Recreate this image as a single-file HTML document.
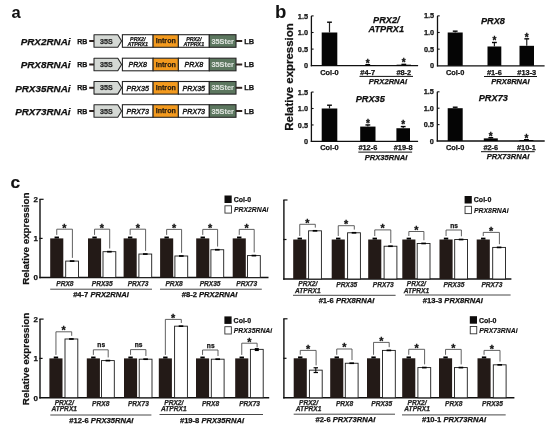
<!DOCTYPE html>
<html><head><meta charset="utf-8"><style>
html,body{margin:0;padding:0;background:#fff;}
svg{display:block;}
text{font-family:"Liberation Sans", Arial, sans-serif;}
</style></head><body>
<svg width="550" height="428" viewBox="0 0 550 428">
<rect width="550" height="428" fill="#fff"/>
<text x="11.50" y="18.20" font-size="16.5" font-weight="bold" font-style="normal" text-anchor="start" fill="#111" >a</text>
<text x="70.60" y="44.80" font-size="9.9" font-weight="bold" font-style="italic" text-anchor="end" fill="#111" stroke="#111" stroke-width="0.25" >PRX2RNAi</text>
<text x="77.20" y="43.50" font-size="7.0" font-weight="bold" font-style="normal" text-anchor="start" fill="#111" stroke="#111" stroke-width="0.25" >RB</text>
<line x1="89.20" y1="41.00" x2="94.00" y2="41.00" stroke="#2e221e" stroke-width="2.0" />
<path d="M94,34.7 L117.8,34.7 L121.6,41.0 L117.8,47.3 L94,47.3 Z" fill="#d4d8d4" stroke="#262626" stroke-width="1.1" stroke-linejoin="round"/>
<text x="106.40" y="43.50" font-size="7.1" font-weight="bold" font-style="normal" text-anchor="middle" fill="#262626" stroke="#262626" stroke-width="0.25" >35S</text>
<rect x="122.40" y="34.70" width="30.70" height="12.60" fill="#ffffff" stroke="#262626" stroke-width="1.1" />
<rect x="153.10" y="34.70" width="25.30" height="12.60" fill="#f39a1e" stroke="#262626" stroke-width="1.1" />
<rect x="178.40" y="34.70" width="30.90" height="12.60" fill="#ffffff" stroke="#262626" stroke-width="1.1" />
<rect x="209.30" y="34.70" width="26.70" height="12.60" fill="#5c775f" stroke="#262626" stroke-width="1.1" />
<text x="165.75" y="43.40" font-size="7.1" font-weight="bold" font-style="normal" text-anchor="middle" fill="#2e2010" stroke="#2e2010" stroke-width="0.25" >Intron</text>
<text x="222.65" y="43.50" font-size="7.3" font-weight="bold" font-style="normal" text-anchor="middle" fill="#dde2dd" stroke="#dde2dd" stroke-width="0.1" >35Ster</text>
<text x="137.75" y="40.50" font-size="5.3" font-weight="bold" font-style="italic" text-anchor="middle" fill="#111" stroke="#111" stroke-width="0.25" >PRX2/</text>
<text x="137.75" y="45.60" font-size="5.3" font-weight="bold" font-style="italic" text-anchor="middle" fill="#111" stroke="#111" stroke-width="0.25" >ATPRX1</text>
<text x="193.85" y="40.50" font-size="5.3" font-weight="bold" font-style="italic" text-anchor="middle" fill="#111" stroke="#111" stroke-width="0.25" >PRX2/</text>
<text x="193.85" y="45.60" font-size="5.3" font-weight="bold" font-style="italic" text-anchor="middle" fill="#111" stroke="#111" stroke-width="0.25" >ATPRX1</text>
<line x1="236.00" y1="41.00" x2="242.20" y2="41.00" stroke="#2e221e" stroke-width="2.0" />
<text x="244.20" y="43.60" font-size="7.4" font-weight="bold" font-style="normal" text-anchor="start" fill="#111" stroke="#111" stroke-width="0.25" >LB</text>
<text x="70.60" y="68.30" font-size="9.9" font-weight="bold" font-style="italic" text-anchor="end" fill="#111" stroke="#111" stroke-width="0.25" >PRX8RNAi</text>
<text x="77.20" y="67.00" font-size="7.0" font-weight="bold" font-style="normal" text-anchor="start" fill="#111" stroke="#111" stroke-width="0.25" >RB</text>
<line x1="89.20" y1="64.50" x2="94.00" y2="64.50" stroke="#2e221e" stroke-width="2.0" />
<path d="M94,58.2 L117.8,58.2 L121.6,64.5 L117.8,70.8 L94,70.8 Z" fill="#d4d8d4" stroke="#262626" stroke-width="1.1" stroke-linejoin="round"/>
<text x="106.40" y="67.00" font-size="7.1" font-weight="bold" font-style="normal" text-anchor="middle" fill="#262626" stroke="#262626" stroke-width="0.25" >35S</text>
<rect x="122.40" y="58.20" width="30.70" height="12.60" fill="#ffffff" stroke="#262626" stroke-width="1.1" />
<rect x="153.10" y="58.20" width="25.30" height="12.60" fill="#f39a1e" stroke="#262626" stroke-width="1.1" />
<rect x="178.40" y="58.20" width="30.90" height="12.60" fill="#ffffff" stroke="#262626" stroke-width="1.1" />
<rect x="209.30" y="58.20" width="26.70" height="12.60" fill="#5c775f" stroke="#262626" stroke-width="1.1" />
<text x="165.75" y="66.90" font-size="7.1" font-weight="bold" font-style="normal" text-anchor="middle" fill="#2e2010" stroke="#2e2010" stroke-width="0.25" >Intron</text>
<text x="222.65" y="67.00" font-size="7.3" font-weight="bold" font-style="normal" text-anchor="middle" fill="#dde2dd" stroke="#dde2dd" stroke-width="0.1" >35Ster</text>
<text x="137.75" y="67.20" font-size="7.1" font-weight="normal" font-style="italic" text-anchor="middle" fill="#111" stroke="#111" stroke-width="0.38" >PRX8</text>
<text x="193.85" y="67.20" font-size="7.1" font-weight="normal" font-style="italic" text-anchor="middle" fill="#111" stroke="#111" stroke-width="0.38" >PRX8</text>
<line x1="236.00" y1="64.50" x2="242.20" y2="64.50" stroke="#2e221e" stroke-width="2.0" />
<text x="244.20" y="67.10" font-size="7.4" font-weight="bold" font-style="normal" text-anchor="start" fill="#111" stroke="#111" stroke-width="0.25" >LB</text>
<text x="70.60" y="91.60" font-size="9.9" font-weight="bold" font-style="italic" text-anchor="end" fill="#111" stroke="#111" stroke-width="0.25" >PRX35RNAi</text>
<text x="77.20" y="90.30" font-size="7.0" font-weight="bold" font-style="normal" text-anchor="start" fill="#111" stroke="#111" stroke-width="0.25" >RB</text>
<line x1="89.20" y1="87.80" x2="94.00" y2="87.80" stroke="#2e221e" stroke-width="2.0" />
<path d="M94,81.5 L117.8,81.5 L121.6,87.8 L117.8,94.1 L94,94.1 Z" fill="#d4d8d4" stroke="#262626" stroke-width="1.1" stroke-linejoin="round"/>
<text x="106.40" y="90.30" font-size="7.1" font-weight="bold" font-style="normal" text-anchor="middle" fill="#262626" stroke="#262626" stroke-width="0.25" >35S</text>
<rect x="122.40" y="81.50" width="30.70" height="12.60" fill="#ffffff" stroke="#262626" stroke-width="1.1" />
<rect x="153.10" y="81.50" width="25.30" height="12.60" fill="#f39a1e" stroke="#262626" stroke-width="1.1" />
<rect x="178.40" y="81.50" width="30.90" height="12.60" fill="#ffffff" stroke="#262626" stroke-width="1.1" />
<rect x="209.30" y="81.50" width="26.70" height="12.60" fill="#5c775f" stroke="#262626" stroke-width="1.1" />
<text x="165.75" y="90.20" font-size="7.1" font-weight="bold" font-style="normal" text-anchor="middle" fill="#2e2010" stroke="#2e2010" stroke-width="0.25" >Intron</text>
<text x="222.65" y="90.30" font-size="7.3" font-weight="bold" font-style="normal" text-anchor="middle" fill="#dde2dd" stroke="#dde2dd" stroke-width="0.1" >35Ster</text>
<text x="137.75" y="90.50" font-size="7.1" font-weight="normal" font-style="italic" text-anchor="middle" fill="#111" stroke="#111" stroke-width="0.38" >PRX35</text>
<text x="193.85" y="90.50" font-size="7.1" font-weight="normal" font-style="italic" text-anchor="middle" fill="#111" stroke="#111" stroke-width="0.38" >PRX35</text>
<line x1="236.00" y1="87.80" x2="242.20" y2="87.80" stroke="#2e221e" stroke-width="2.0" />
<text x="244.20" y="90.40" font-size="7.4" font-weight="bold" font-style="normal" text-anchor="start" fill="#111" stroke="#111" stroke-width="0.25" >LB</text>
<text x="70.60" y="114.80" font-size="9.9" font-weight="bold" font-style="italic" text-anchor="end" fill="#111" stroke="#111" stroke-width="0.25" >PRX73RNAi</text>
<text x="77.20" y="113.50" font-size="7.0" font-weight="bold" font-style="normal" text-anchor="start" fill="#111" stroke="#111" stroke-width="0.25" >RB</text>
<line x1="89.20" y1="111.00" x2="94.00" y2="111.00" stroke="#2e221e" stroke-width="2.0" />
<path d="M94,104.7 L117.8,104.7 L121.6,111.0 L117.8,117.3 L94,117.3 Z" fill="#d4d8d4" stroke="#262626" stroke-width="1.1" stroke-linejoin="round"/>
<text x="106.40" y="113.50" font-size="7.1" font-weight="bold" font-style="normal" text-anchor="middle" fill="#262626" stroke="#262626" stroke-width="0.25" >35S</text>
<rect x="122.40" y="104.70" width="30.70" height="12.60" fill="#ffffff" stroke="#262626" stroke-width="1.1" />
<rect x="153.10" y="104.70" width="25.30" height="12.60" fill="#f39a1e" stroke="#262626" stroke-width="1.1" />
<rect x="178.40" y="104.70" width="30.90" height="12.60" fill="#ffffff" stroke="#262626" stroke-width="1.1" />
<rect x="209.30" y="104.70" width="26.70" height="12.60" fill="#5c775f" stroke="#262626" stroke-width="1.1" />
<text x="165.75" y="113.40" font-size="7.1" font-weight="bold" font-style="normal" text-anchor="middle" fill="#2e2010" stroke="#2e2010" stroke-width="0.25" >Intron</text>
<text x="222.65" y="113.50" font-size="7.3" font-weight="bold" font-style="normal" text-anchor="middle" fill="#dde2dd" stroke="#dde2dd" stroke-width="0.1" >35Ster</text>
<text x="137.75" y="113.70" font-size="7.1" font-weight="normal" font-style="italic" text-anchor="middle" fill="#111" stroke="#111" stroke-width="0.38" >PRX73</text>
<text x="193.85" y="113.70" font-size="7.1" font-weight="normal" font-style="italic" text-anchor="middle" fill="#111" stroke="#111" stroke-width="0.38" >PRX73</text>
<line x1="236.00" y1="111.00" x2="242.20" y2="111.00" stroke="#2e221e" stroke-width="2.0" />
<text x="244.20" y="113.60" font-size="7.4" font-weight="bold" font-style="normal" text-anchor="start" fill="#111" stroke="#111" stroke-width="0.25" >LB</text>
<text x="275.00" y="17.90" font-size="18.6" font-weight="bold" font-style="normal" text-anchor="start" fill="#111" >b</text>
<text x="0.00" y="0.00" font-size="11.45" font-weight="bold" font-style="normal" text-anchor="middle" fill="#111" stroke="#111" stroke-width="0.25" transform="translate(293.4,77.0) rotate(-90)">Relative expression</text>
<line x1="311.40" y1="15.90" x2="311.40" y2="66.30" stroke="#111" stroke-width="1.3" />
<line x1="310.80" y1="65.70" x2="418.10" y2="65.70" stroke="#111" stroke-width="1.3" />
<text x="308.00" y="68.30" font-size="7.3" font-weight="bold" font-style="normal" text-anchor="end" fill="#111" stroke="#111" stroke-width="0.25" >0</text>
<line x1="311.40" y1="49.10" x2="313.60" y2="49.10" stroke="#111" stroke-width="1.1" />
<text x="308.00" y="51.70" font-size="7.3" font-weight="bold" font-style="normal" text-anchor="end" fill="#111" stroke="#111" stroke-width="0.25" >0.5</text>
<line x1="311.40" y1="32.50" x2="313.60" y2="32.50" stroke="#111" stroke-width="1.1" />
<text x="308.00" y="35.10" font-size="7.3" font-weight="bold" font-style="normal" text-anchor="end" fill="#111" stroke="#111" stroke-width="0.25" >1.0</text>
<line x1="311.40" y1="15.90" x2="313.60" y2="15.90" stroke="#111" stroke-width="1.1" />
<text x="308.00" y="18.50" font-size="7.3" font-weight="bold" font-style="normal" text-anchor="end" fill="#111" stroke="#111" stroke-width="0.25" >1.5</text>
<rect x="321.70" y="32.50" width="15.60" height="33.20" fill="#050505" stroke="none" stroke-width="0" />
<line x1="329.50" y1="32.50" x2="329.50" y2="22.21" stroke="#222" stroke-width="1.2" />
<line x1="327.10" y1="22.21" x2="331.90" y2="22.21" stroke="#050505" stroke-width="1.4" />
<text x="329.50" y="74.50" font-size="7.4" font-weight="bold" font-style="normal" text-anchor="middle" fill="#111" stroke="#111" stroke-width="0.25" >Col-0</text>
<rect x="360.00" y="65.04" width="15.50" height="0.66" fill="#050505" stroke="none" stroke-width="0" />
<line x1="367.75" y1="65.04" x2="367.75" y2="64.70" stroke="#222" stroke-width="1.2" />
<line x1="365.35" y1="64.70" x2="370.15" y2="64.70" stroke="#050505" stroke-width="1.4" />
<text x="367.75" y="66.52" font-size="10.0" font-weight="bold" font-style="normal" text-anchor="middle" fill="#111" stroke="#111" stroke-width="0.3" >*</text>
<text x="367.75" y="74.50" font-size="7.4" font-weight="bold" font-style="normal" text-anchor="middle" fill="#111" stroke="#111" stroke-width="0.25" >#4-7</text>
<rect x="396.60" y="64.70" width="14.40" height="1.00" fill="#050505" stroke="none" stroke-width="0" />
<line x1="403.80" y1="64.70" x2="403.80" y2="64.37" stroke="#222" stroke-width="1.2" />
<line x1="401.40" y1="64.37" x2="406.20" y2="64.37" stroke="#050505" stroke-width="1.4" />
<text x="403.80" y="66.19" font-size="10.0" font-weight="bold" font-style="normal" text-anchor="middle" fill="#111" stroke="#111" stroke-width="0.3" >*</text>
<text x="403.80" y="74.50" font-size="7.4" font-weight="bold" font-style="normal" text-anchor="middle" fill="#111" stroke="#111" stroke-width="0.25" >#8-2</text>
<line x1="359.50" y1="76.40" x2="413.00" y2="76.40" stroke="#111" stroke-width="1.0" />
<text x="388.00" y="84.10" font-size="7.6" font-weight="bold" font-style="italic" text-anchor="middle" fill="#111" stroke="#111" stroke-width="0.25" >PRX2RNAi</text>
<text x="386.30" y="23.00" font-size="9.2" font-weight="bold" font-style="italic" text-anchor="middle" fill="#111" stroke="#111" stroke-width="0.25" >PRX2/</text>
<text x="386.30" y="31.80" font-size="9.2" font-weight="bold" font-style="italic" text-anchor="middle" fill="#111" stroke="#111" stroke-width="0.25" >ATPRX1</text>
<line x1="437.50" y1="15.85" x2="437.50" y2="66.40" stroke="#111" stroke-width="1.3" />
<line x1="436.90" y1="65.80" x2="544.60" y2="65.80" stroke="#111" stroke-width="1.3" />
<text x="434.10" y="68.40" font-size="7.3" font-weight="bold" font-style="normal" text-anchor="end" fill="#111" stroke="#111" stroke-width="0.25" >0</text>
<line x1="437.50" y1="49.15" x2="439.70" y2="49.15" stroke="#111" stroke-width="1.1" />
<text x="434.10" y="51.75" font-size="7.3" font-weight="bold" font-style="normal" text-anchor="end" fill="#111" stroke="#111" stroke-width="0.25" >0.5</text>
<line x1="437.50" y1="32.50" x2="439.70" y2="32.50" stroke="#111" stroke-width="1.1" />
<text x="434.10" y="35.10" font-size="7.3" font-weight="bold" font-style="normal" text-anchor="end" fill="#111" stroke="#111" stroke-width="0.25" >1.0</text>
<line x1="437.50" y1="15.85" x2="439.70" y2="15.85" stroke="#111" stroke-width="1.1" />
<text x="434.10" y="18.45" font-size="7.3" font-weight="bold" font-style="normal" text-anchor="end" fill="#111" stroke="#111" stroke-width="0.25" >1.5</text>
<rect x="447.70" y="32.50" width="15.00" height="33.30" fill="#050505" stroke="none" stroke-width="0" />
<line x1="455.20" y1="32.50" x2="455.20" y2="31.17" stroke="#222" stroke-width="1.2" />
<line x1="452.80" y1="31.17" x2="457.60" y2="31.17" stroke="#050505" stroke-width="1.4" />
<text x="455.20" y="74.60" font-size="7.4" font-weight="bold" font-style="normal" text-anchor="middle" fill="#111" stroke="#111" stroke-width="0.25" >Col-0</text>
<rect x="487.50" y="46.49" width="13.80" height="19.31" fill="#050505" stroke="none" stroke-width="0" />
<line x1="494.40" y1="46.49" x2="494.40" y2="42.49" stroke="#222" stroke-width="1.2" />
<line x1="492.00" y1="42.49" x2="496.80" y2="42.49" stroke="#050505" stroke-width="1.4" />
<text x="494.40" y="44.31" font-size="10.0" font-weight="bold" font-style="normal" text-anchor="middle" fill="#111" stroke="#111" stroke-width="0.3" >*</text>
<text x="494.40" y="74.60" font-size="7.4" font-weight="bold" font-style="normal" text-anchor="middle" fill="#111" stroke="#111" stroke-width="0.25" >#1-6</text>
<rect x="519.50" y="45.82" width="14.50" height="19.98" fill="#050505" stroke="none" stroke-width="0" />
<line x1="526.75" y1="45.82" x2="526.75" y2="38.83" stroke="#222" stroke-width="1.2" />
<line x1="524.35" y1="38.83" x2="529.15" y2="38.83" stroke="#050505" stroke-width="1.4" />
<text x="526.75" y="40.65" font-size="10.0" font-weight="bold" font-style="normal" text-anchor="middle" fill="#111" stroke="#111" stroke-width="0.3" >*</text>
<text x="526.75" y="74.60" font-size="7.4" font-weight="bold" font-style="normal" text-anchor="middle" fill="#111" stroke="#111" stroke-width="0.25" >#13-3</text>
<line x1="484.00" y1="76.50" x2="537.00" y2="76.50" stroke="#111" stroke-width="1.0" />
<text x="510.50" y="84.20" font-size="7.6" font-weight="bold" font-style="italic" text-anchor="middle" fill="#111" stroke="#111" stroke-width="0.25" >PRX8RNAi</text>
<text x="492.90" y="23.60" font-size="9.2" font-weight="bold" font-style="italic" text-anchor="middle" fill="#111" stroke="#111" stroke-width="0.25" >PRX8</text>
<line x1="311.40" y1="92.05" x2="311.40" y2="142.00" stroke="#111" stroke-width="1.3" />
<line x1="310.80" y1="141.40" x2="418.10" y2="141.40" stroke="#111" stroke-width="1.3" />
<text x="308.00" y="144.00" font-size="7.3" font-weight="bold" font-style="normal" text-anchor="end" fill="#111" stroke="#111" stroke-width="0.25" >0</text>
<line x1="311.40" y1="124.95" x2="313.60" y2="124.95" stroke="#111" stroke-width="1.1" />
<text x="308.00" y="127.55" font-size="7.3" font-weight="bold" font-style="normal" text-anchor="end" fill="#111" stroke="#111" stroke-width="0.25" >0.5</text>
<line x1="311.40" y1="108.50" x2="313.60" y2="108.50" stroke="#111" stroke-width="1.1" />
<text x="308.00" y="111.10" font-size="7.3" font-weight="bold" font-style="normal" text-anchor="end" fill="#111" stroke="#111" stroke-width="0.25" >1.0</text>
<line x1="311.40" y1="92.05" x2="313.60" y2="92.05" stroke="#111" stroke-width="1.1" />
<text x="308.00" y="94.65" font-size="7.3" font-weight="bold" font-style="normal" text-anchor="end" fill="#111" stroke="#111" stroke-width="0.25" >1.5</text>
<rect x="321.70" y="108.50" width="15.60" height="32.90" fill="#050505" stroke="none" stroke-width="0" />
<line x1="329.50" y1="108.50" x2="329.50" y2="105.21" stroke="#222" stroke-width="1.2" />
<line x1="327.10" y1="105.21" x2="331.90" y2="105.21" stroke="#050505" stroke-width="1.4" />
<text x="329.50" y="150.20" font-size="7.4" font-weight="bold" font-style="normal" text-anchor="middle" fill="#111" stroke="#111" stroke-width="0.25" >Col-0</text>
<rect x="360.20" y="126.59" width="15.30" height="14.81" fill="#050505" stroke="none" stroke-width="0" />
<line x1="367.85" y1="126.59" x2="367.85" y2="124.95" stroke="#222" stroke-width="1.2" />
<line x1="365.45" y1="124.95" x2="370.25" y2="124.95" stroke="#050505" stroke-width="1.4" />
<text x="367.85" y="126.77" font-size="10.0" font-weight="bold" font-style="normal" text-anchor="middle" fill="#111" stroke="#111" stroke-width="0.3" >*</text>
<text x="367.85" y="150.20" font-size="7.4" font-weight="bold" font-style="normal" text-anchor="middle" fill="#111" stroke="#111" stroke-width="0.25" >#12-6</text>
<rect x="396.40" y="128.24" width="13.60" height="13.16" fill="#050505" stroke="none" stroke-width="0" />
<line x1="403.20" y1="128.24" x2="403.20" y2="126.59" stroke="#222" stroke-width="1.2" />
<line x1="400.80" y1="126.59" x2="405.60" y2="126.59" stroke="#050505" stroke-width="1.4" />
<text x="403.20" y="128.41" font-size="10.0" font-weight="bold" font-style="normal" text-anchor="middle" fill="#111" stroke="#111" stroke-width="0.3" >*</text>
<text x="403.20" y="150.20" font-size="7.4" font-weight="bold" font-style="normal" text-anchor="middle" fill="#111" stroke="#111" stroke-width="0.25" >#19-8</text>
<line x1="358.30" y1="152.10" x2="412.10" y2="152.10" stroke="#111" stroke-width="1.0" />
<text x="386.00" y="159.80" font-size="7.6" font-weight="bold" font-style="italic" text-anchor="middle" fill="#111" stroke="#111" stroke-width="0.25" >PRX35RNAi</text>
<text x="370.20" y="101.80" font-size="9.2" font-weight="bold" font-style="italic" text-anchor="middle" fill="#111" stroke="#111" stroke-width="0.25" >PRX35</text>
<line x1="437.30" y1="91.80" x2="437.30" y2="141.60" stroke="#111" stroke-width="1.3" />
<line x1="436.70" y1="141.00" x2="544.70" y2="141.00" stroke="#111" stroke-width="1.3" />
<text x="433.90" y="143.60" font-size="7.3" font-weight="bold" font-style="normal" text-anchor="end" fill="#111" stroke="#111" stroke-width="0.25" >0</text>
<line x1="437.30" y1="124.60" x2="439.50" y2="124.60" stroke="#111" stroke-width="1.1" />
<text x="433.90" y="127.20" font-size="7.3" font-weight="bold" font-style="normal" text-anchor="end" fill="#111" stroke="#111" stroke-width="0.25" >0.5</text>
<line x1="437.30" y1="108.20" x2="439.50" y2="108.20" stroke="#111" stroke-width="1.1" />
<text x="433.90" y="110.80" font-size="7.3" font-weight="bold" font-style="normal" text-anchor="end" fill="#111" stroke="#111" stroke-width="0.25" >1.0</text>
<line x1="437.30" y1="91.80" x2="439.50" y2="91.80" stroke="#111" stroke-width="1.1" />
<text x="433.90" y="94.40" font-size="7.3" font-weight="bold" font-style="normal" text-anchor="end" fill="#111" stroke="#111" stroke-width="0.25" >1.5</text>
<rect x="447.70" y="108.20" width="15.00" height="32.80" fill="#050505" stroke="none" stroke-width="0" />
<line x1="455.20" y1="108.20" x2="455.20" y2="107.22" stroke="#222" stroke-width="1.2" />
<line x1="452.80" y1="107.22" x2="457.60" y2="107.22" stroke="#050505" stroke-width="1.4" />
<text x="455.20" y="149.80" font-size="7.4" font-weight="bold" font-style="normal" text-anchor="middle" fill="#111" stroke="#111" stroke-width="0.25" >Col-0</text>
<rect x="483.80" y="138.38" width="14.00" height="2.62" fill="#050505" stroke="none" stroke-width="0" />
<line x1="490.80" y1="138.38" x2="490.80" y2="137.72" stroke="#222" stroke-width="1.2" />
<line x1="488.40" y1="137.72" x2="493.20" y2="137.72" stroke="#050505" stroke-width="1.4" />
<text x="490.80" y="139.54" font-size="10.0" font-weight="bold" font-style="normal" text-anchor="middle" fill="#111" stroke="#111" stroke-width="0.3" >*</text>
<text x="490.80" y="149.80" font-size="7.4" font-weight="bold" font-style="normal" text-anchor="middle" fill="#111" stroke="#111" stroke-width="0.25" >#2-6</text>
<rect x="519.40" y="140.02" width="14.00" height="0.98" fill="#050505" stroke="none" stroke-width="0" />
<line x1="526.40" y1="140.02" x2="526.40" y2="139.69" stroke="#222" stroke-width="1.2" />
<line x1="524.00" y1="139.69" x2="528.80" y2="139.69" stroke="#050505" stroke-width="1.4" />
<text x="526.40" y="141.51" font-size="10.0" font-weight="bold" font-style="normal" text-anchor="middle" fill="#111" stroke="#111" stroke-width="0.3" >*</text>
<text x="526.40" y="149.80" font-size="7.4" font-weight="bold" font-style="normal" text-anchor="middle" fill="#111" stroke="#111" stroke-width="0.25" >#10-1</text>
<line x1="481.00" y1="151.70" x2="534.70" y2="151.70" stroke="#111" stroke-width="1.0" />
<text x="508.00" y="159.40" font-size="7.6" font-weight="bold" font-style="italic" text-anchor="middle" fill="#111" stroke="#111" stroke-width="0.25" >PRX73RNAi</text>
<text x="493.30" y="100.90" font-size="9.2" font-weight="bold" font-style="italic" text-anchor="middle" fill="#111" stroke="#111" stroke-width="0.25" >PRX73</text>
<text x="10.60" y="188.10" font-size="17.3" font-weight="bold" font-style="normal" text-anchor="start" fill="#111" stroke="#111" stroke-width="0.2" >c</text>
<line x1="40.00" y1="199.30" x2="40.00" y2="278.20" stroke="#111" stroke-width="1.4" />
<line x1="39.30" y1="277.50" x2="268.50" y2="277.50" stroke="#111" stroke-width="1.5" />
<line x1="39.40" y1="238.40" x2="42.60" y2="238.40" stroke="#111" stroke-width="1.2" />
<line x1="39.40" y1="199.30" x2="43.60" y2="199.30" stroke="#111" stroke-width="1.2" />
<text x="38.00" y="280.40" font-size="8.0" font-weight="bold" font-style="normal" text-anchor="end" fill="#111" stroke="#111" stroke-width="0.25" >0</text>
<text x="38.00" y="241.30" font-size="8.0" font-weight="bold" font-style="normal" text-anchor="end" fill="#111" stroke="#111" stroke-width="0.25" >1</text>
<text x="38.00" y="202.20" font-size="8.0" font-weight="bold" font-style="normal" text-anchor="end" fill="#111" stroke="#111" stroke-width="0.25" >2</text>
<text x="0.00" y="0.00" font-size="9.85" font-weight="bold" font-style="normal" text-anchor="middle" fill="#111" stroke="#111" stroke-width="0.25" transform="translate(29.2,238.6) rotate(-90)">Relative expression</text>
<rect x="50.20" y="238.40" width="13.10" height="39.10" fill="#231a17" stroke="none" stroke-width="0" />
<rect x="65.70" y="261.08" width="12.80" height="16.42" fill="#ffffff" stroke="#1a1a1a" stroke-width="0.9" />
<line x1="54.55" y1="237.50" x2="58.95" y2="237.50" stroke="#000" stroke-width="1.9" />
<line x1="69.80" y1="261.08" x2="74.40" y2="261.08" stroke="#000" stroke-width="1.7" />
<path d="M56.75,234.90 L56.75,229.20 L72.40,229.20 L72.40,257.88" fill="none" stroke="#444" stroke-width="0.85" />
<text x="64.43" y="231.62" font-size="10.8" font-weight="bold" font-style="normal" text-anchor="middle" fill="#111" stroke="#111" stroke-width="0.3" >*</text>
<text x="64.90" y="285.90" font-size="6.6" font-weight="bold" font-style="italic" text-anchor="middle" fill="#222" stroke="#222" stroke-width="0.25" >PRX8</text>
<rect x="88.00" y="238.40" width="13.10" height="39.10" fill="#231a17" stroke="none" stroke-width="0" />
<rect x="103.00" y="251.69" width="12.80" height="25.81" fill="#ffffff" stroke="#1a1a1a" stroke-width="0.9" />
<line x1="92.35" y1="237.50" x2="96.75" y2="237.50" stroke="#000" stroke-width="1.9" />
<line x1="107.10" y1="251.69" x2="111.70" y2="251.69" stroke="#000" stroke-width="1.7" />
<path d="M94.55,234.90 L94.55,229.20 L109.70,229.20 L109.70,248.49" fill="none" stroke="#444" stroke-width="0.85" />
<text x="101.97" y="231.62" font-size="10.8" font-weight="bold" font-style="normal" text-anchor="middle" fill="#111" stroke="#111" stroke-width="0.3" >*</text>
<text x="102.20" y="285.90" font-size="6.6" font-weight="bold" font-style="italic" text-anchor="middle" fill="#222" stroke="#222" stroke-width="0.25" >PRX35</text>
<rect x="123.60" y="238.40" width="13.10" height="39.10" fill="#231a17" stroke="none" stroke-width="0" />
<rect x="138.90" y="254.04" width="12.80" height="23.46" fill="#ffffff" stroke="#1a1a1a" stroke-width="0.9" />
<line x1="127.95" y1="237.50" x2="132.35" y2="237.50" stroke="#000" stroke-width="1.9" />
<line x1="143.00" y1="254.04" x2="147.60" y2="254.04" stroke="#000" stroke-width="1.7" />
<path d="M130.15,234.90 L130.15,229.20 L145.60,229.20 L145.60,250.84" fill="none" stroke="#444" stroke-width="0.85" />
<text x="137.73" y="231.62" font-size="10.8" font-weight="bold" font-style="normal" text-anchor="middle" fill="#111" stroke="#111" stroke-width="0.3" >*</text>
<text x="138.10" y="285.90" font-size="6.6" font-weight="bold" font-style="italic" text-anchor="middle" fill="#222" stroke="#222" stroke-width="0.25" >PRX73</text>
<rect x="160.10" y="238.40" width="13.10" height="39.10" fill="#231a17" stroke="none" stroke-width="0" />
<rect x="174.90" y="256.00" width="12.80" height="21.50" fill="#ffffff" stroke="#1a1a1a" stroke-width="0.9" />
<line x1="164.45" y1="237.50" x2="168.85" y2="237.50" stroke="#000" stroke-width="1.9" />
<line x1="179.00" y1="256.00" x2="183.60" y2="256.00" stroke="#000" stroke-width="1.7" />
<path d="M166.65,234.90 L166.65,229.40 L181.60,229.40 L181.60,252.79" fill="none" stroke="#444" stroke-width="0.85" />
<text x="173.98" y="231.82" font-size="10.8" font-weight="bold" font-style="normal" text-anchor="middle" fill="#111" stroke="#111" stroke-width="0.3" >*</text>
<text x="174.10" y="285.90" font-size="6.6" font-weight="bold" font-style="italic" text-anchor="middle" fill="#222" stroke="#222" stroke-width="0.25" >PRX8</text>
<rect x="196.20" y="238.40" width="13.10" height="39.10" fill="#231a17" stroke="none" stroke-width="0" />
<rect x="210.90" y="249.74" width="12.80" height="27.76" fill="#ffffff" stroke="#1a1a1a" stroke-width="0.9" />
<line x1="200.55" y1="237.50" x2="204.95" y2="237.50" stroke="#000" stroke-width="1.9" />
<line x1="215.00" y1="249.74" x2="219.60" y2="249.74" stroke="#000" stroke-width="1.7" />
<path d="M202.75,234.90 L202.75,229.40 L217.60,229.40 L217.60,246.54" fill="none" stroke="#444" stroke-width="0.85" />
<text x="210.03" y="231.82" font-size="10.8" font-weight="bold" font-style="normal" text-anchor="middle" fill="#111" stroke="#111" stroke-width="0.3" >*</text>
<text x="210.10" y="285.90" font-size="6.6" font-weight="bold" font-style="italic" text-anchor="middle" fill="#222" stroke="#222" stroke-width="0.25" >PRX35</text>
<rect x="232.70" y="238.40" width="13.10" height="39.10" fill="#231a17" stroke="none" stroke-width="0" />
<rect x="247.50" y="255.60" width="12.80" height="21.90" fill="#ffffff" stroke="#1a1a1a" stroke-width="0.9" />
<line x1="237.05" y1="237.50" x2="241.45" y2="237.50" stroke="#000" stroke-width="1.9" />
<line x1="251.60" y1="255.60" x2="256.20" y2="255.60" stroke="#000" stroke-width="1.7" />
<path d="M239.25,234.90 L239.25,229.40 L254.20,229.40 L254.20,252.40" fill="none" stroke="#444" stroke-width="0.85" />
<text x="246.57" y="231.82" font-size="10.8" font-weight="bold" font-style="normal" text-anchor="middle" fill="#111" stroke="#111" stroke-width="0.3" >*</text>
<text x="246.70" y="285.90" font-size="6.6" font-weight="bold" font-style="italic" text-anchor="middle" fill="#222" stroke="#222" stroke-width="0.25" >PRX73</text>
<line x1="50.20" y1="289.20" x2="152.00" y2="289.20" stroke="#333" stroke-width="0.9" />
<text x="101.00" y="296.80" font-size="7.6" font-weight="bold" text-anchor="middle" fill="#111" stroke="#111" stroke-width="0.25">#4-7 <tspan font-style="italic">PRX2RNAi</tspan></text>
<line x1="160.00" y1="289.20" x2="261.80" y2="289.20" stroke="#333" stroke-width="0.9" />
<text x="209.60" y="296.80" font-size="7.6" font-weight="bold" text-anchor="middle" fill="#111" stroke="#111" stroke-width="0.25">#8-2 <tspan font-style="italic">PRX2RNAi</tspan></text>
<rect x="224.50" y="195.50" width="7.20" height="7.50" fill="#0e0c0b" stroke="none" stroke-width="0" />
<rect x="224.95" y="205.80" width="6.50" height="7.30" fill="#fff" stroke="#333" stroke-width="0.9" />
<text x="233.70" y="201.80" font-size="7.0" font-weight="bold" font-style="normal" text-anchor="start" fill="#111" stroke="#111" stroke-width="0.25" >Col-0</text>
<text x="233.90" y="212.40" font-size="6.85" font-weight="bold" font-style="italic" text-anchor="start" fill="#111" stroke="#111" stroke-width="0.12" >PRX2RNAi</text>
<line x1="283.90" y1="200.00" x2="283.90" y2="279.70" stroke="#111" stroke-width="1.4" />
<line x1="283.20" y1="279.00" x2="511.40" y2="279.00" stroke="#111" stroke-width="1.5" />
<line x1="283.30" y1="239.50" x2="286.50" y2="239.50" stroke="#111" stroke-width="1.2" />
<line x1="283.30" y1="200.00" x2="287.50" y2="200.00" stroke="#111" stroke-width="1.2" />
<rect x="293.20" y="239.50" width="13.10" height="39.50" fill="#231a17" stroke="none" stroke-width="0" />
<rect x="308.60" y="230.81" width="12.80" height="48.19" fill="#ffffff" stroke="#1a1a1a" stroke-width="0.9" />
<line x1="297.55" y1="238.60" x2="301.95" y2="238.60" stroke="#000" stroke-width="1.9" />
<line x1="312.70" y1="230.81" x2="317.30" y2="230.81" stroke="#000" stroke-width="1.7" />
<path d="M299.75,236.00 L299.75,224.30 L315.30,224.30 L315.30,227.61" fill="none" stroke="#444" stroke-width="0.85" />
<text x="307.38" y="226.72" font-size="10.8" font-weight="bold" font-style="normal" text-anchor="middle" fill="#111" stroke="#111" stroke-width="0.3" >*</text>
<text x="307.80" y="286.40" font-size="6.6" font-weight="bold" font-style="italic" text-anchor="middle" fill="#222" stroke="#222" stroke-width="0.25" >PRX2/</text>
<text x="307.80" y="292.60" font-size="6.6" font-weight="bold" font-style="italic" text-anchor="middle" fill="#222" stroke="#222" stroke-width="0.25" >ATPRX1</text>
<rect x="331.70" y="239.50" width="13.10" height="39.50" fill="#231a17" stroke="none" stroke-width="0" />
<rect x="347.60" y="232.78" width="12.80" height="46.22" fill="#ffffff" stroke="#1a1a1a" stroke-width="0.9" />
<line x1="336.05" y1="238.60" x2="340.45" y2="238.60" stroke="#000" stroke-width="1.9" />
<line x1="351.70" y1="232.78" x2="356.30" y2="232.78" stroke="#000" stroke-width="1.7" />
<path d="M338.25,236.00 L338.25,225.70 L354.30,225.70 L354.30,229.58" fill="none" stroke="#444" stroke-width="0.85" />
<text x="346.12" y="228.12" font-size="10.8" font-weight="bold" font-style="normal" text-anchor="middle" fill="#111" stroke="#111" stroke-width="0.3" >*</text>
<text x="346.80" y="287.40" font-size="6.6" font-weight="bold" font-style="italic" text-anchor="middle" fill="#222" stroke="#222" stroke-width="0.25" >PRX35</text>
<rect x="368.20" y="239.50" width="13.10" height="39.50" fill="#231a17" stroke="none" stroke-width="0" />
<rect x="384.10" y="246.22" width="12.80" height="32.78" fill="#ffffff" stroke="#1a1a1a" stroke-width="0.9" />
<line x1="372.55" y1="238.60" x2="376.95" y2="238.60" stroke="#000" stroke-width="1.9" />
<line x1="388.20" y1="246.22" x2="392.80" y2="246.22" stroke="#000" stroke-width="1.7" />
<path d="M374.75,236.00 L374.75,229.90 L390.80,229.90 L390.80,243.01" fill="none" stroke="#444" stroke-width="0.85" />
<text x="382.62" y="232.32" font-size="10.8" font-weight="bold" font-style="normal" text-anchor="middle" fill="#111" stroke="#111" stroke-width="0.3" >*</text>
<text x="383.30" y="287.40" font-size="6.6" font-weight="bold" font-style="italic" text-anchor="middle" fill="#222" stroke="#222" stroke-width="0.25" >PRX73</text>
<rect x="402.30" y="239.50" width="13.10" height="39.50" fill="#231a17" stroke="none" stroke-width="0" />
<rect x="417.20" y="243.45" width="12.80" height="35.55" fill="#ffffff" stroke="#1a1a1a" stroke-width="0.9" />
<line x1="406.65" y1="238.60" x2="411.05" y2="238.60" stroke="#000" stroke-width="1.9" />
<line x1="421.30" y1="243.45" x2="425.90" y2="243.45" stroke="#000" stroke-width="1.7" />
<path d="M408.85,236.00 L408.85,231.50 L423.90,231.50 L423.90,240.25" fill="none" stroke="#444" stroke-width="0.85" />
<text x="416.23" y="233.92" font-size="10.8" font-weight="bold" font-style="normal" text-anchor="middle" fill="#111" stroke="#111" stroke-width="0.3" >*</text>
<text x="416.40" y="286.40" font-size="6.6" font-weight="bold" font-style="italic" text-anchor="middle" fill="#222" stroke="#222" stroke-width="0.25" >PRX2/</text>
<text x="416.40" y="292.60" font-size="6.6" font-weight="bold" font-style="italic" text-anchor="middle" fill="#222" stroke="#222" stroke-width="0.25" >ATPRX1</text>
<rect x="439.50" y="239.50" width="13.10" height="39.50" fill="#231a17" stroke="none" stroke-width="0" />
<rect x="454.70" y="239.50" width="12.80" height="39.50" fill="#ffffff" stroke="#1a1a1a" stroke-width="0.9" />
<line x1="443.85" y1="238.60" x2="448.25" y2="238.60" stroke="#000" stroke-width="1.9" />
<line x1="458.80" y1="239.50" x2="463.40" y2="239.50" stroke="#000" stroke-width="1.7" />
<path d="M446.05,236.00 L446.05,230.00 L461.40,230.00 L461.40,236.30" fill="none" stroke="#444" stroke-width="0.85" />
<text x="454.18" y="227.60" font-size="6.6" font-weight="bold" font-style="normal" text-anchor="middle" fill="#111" stroke="#111" stroke-width="0.25" >ns</text>
<text x="453.90" y="287.40" font-size="6.6" font-weight="bold" font-style="italic" text-anchor="middle" fill="#222" stroke="#222" stroke-width="0.25" >PRX35</text>
<rect x="476.70" y="239.50" width="13.10" height="39.50" fill="#231a17" stroke="none" stroke-width="0" />
<rect x="492.70" y="247.40" width="12.80" height="31.60" fill="#ffffff" stroke="#1a1a1a" stroke-width="0.9" />
<line x1="481.05" y1="238.60" x2="485.45" y2="238.60" stroke="#000" stroke-width="1.9" />
<line x1="496.80" y1="247.40" x2="501.40" y2="247.40" stroke="#000" stroke-width="1.7" />
<path d="M483.25,236.00 L483.25,232.40 L499.40,232.40 L499.40,244.20" fill="none" stroke="#444" stroke-width="0.85" />
<text x="491.17" y="234.82" font-size="10.8" font-weight="bold" font-style="normal" text-anchor="middle" fill="#111" stroke="#111" stroke-width="0.3" >*</text>
<text x="491.90" y="287.40" font-size="6.6" font-weight="bold" font-style="italic" text-anchor="middle" fill="#222" stroke="#222" stroke-width="0.25" >PRX73</text>
<line x1="293.00" y1="295.30" x2="395.60" y2="295.30" stroke="#333" stroke-width="0.9" />
<text x="346.50" y="302.90" font-size="7.6" font-weight="bold" text-anchor="middle" fill="#111" stroke="#111" stroke-width="0.25">#1-6 <tspan font-style="italic">PRX8RNAi</tspan></text>
<line x1="405.00" y1="295.00" x2="510.60" y2="295.00" stroke="#333" stroke-width="0.9" />
<text x="452.80" y="302.90" font-size="7.6" font-weight="bold" text-anchor="middle" fill="#111" stroke="#111" stroke-width="0.25">#13-3 <tspan font-style="italic">PRX8RNAi</tspan></text>
<rect x="464.60" y="196.00" width="7.20" height="7.50" fill="#0e0c0b" stroke="none" stroke-width="0" />
<rect x="465.05" y="206.30" width="6.50" height="7.30" fill="#fff" stroke="#333" stroke-width="0.9" />
<text x="473.80" y="202.30" font-size="7.0" font-weight="bold" font-style="normal" text-anchor="start" fill="#111" stroke="#111" stroke-width="0.25" >Col-0</text>
<text x="474.00" y="212.90" font-size="6.85" font-weight="bold" font-style="italic" text-anchor="start" fill="#111" stroke="#111" stroke-width="0.12" >PRX8RNAi</text>
<line x1="40.00" y1="319.10" x2="40.00" y2="398.40" stroke="#111" stroke-width="1.4" />
<line x1="39.30" y1="397.70" x2="269.20" y2="397.70" stroke="#111" stroke-width="1.5" />
<line x1="39.40" y1="358.40" x2="42.60" y2="358.40" stroke="#111" stroke-width="1.2" />
<line x1="39.40" y1="319.10" x2="43.60" y2="319.10" stroke="#111" stroke-width="1.2" />
<text x="38.00" y="400.60" font-size="8.0" font-weight="bold" font-style="normal" text-anchor="end" fill="#111" stroke="#111" stroke-width="0.25" >0</text>
<text x="38.00" y="361.30" font-size="8.0" font-weight="bold" font-style="normal" text-anchor="end" fill="#111" stroke="#111" stroke-width="0.25" >1</text>
<text x="38.00" y="322.00" font-size="8.0" font-weight="bold" font-style="normal" text-anchor="end" fill="#111" stroke="#111" stroke-width="0.25" >2</text>
<text x="0.00" y="0.00" font-size="9.85" font-weight="bold" font-style="normal" text-anchor="middle" fill="#111" stroke="#111" stroke-width="0.25" transform="translate(29.2,358.9) rotate(-90)">Relative expression</text>
<rect x="49.40" y="358.40" width="13.10" height="39.30" fill="#231a17" stroke="none" stroke-width="0" />
<rect x="65.00" y="338.99" width="12.80" height="58.71" fill="#ffffff" stroke="#1a1a1a" stroke-width="0.9" />
<line x1="53.75" y1="357.50" x2="58.15" y2="357.50" stroke="#000" stroke-width="1.9" />
<line x1="69.10" y1="338.99" x2="73.70" y2="338.99" stroke="#000" stroke-width="1.7" />
<path d="M55.95,354.90 L55.95,331.80 L71.70,331.80 L71.70,335.79" fill="none" stroke="#444" stroke-width="0.85" />
<text x="63.67" y="334.22" font-size="10.8" font-weight="bold" font-style="normal" text-anchor="middle" fill="#111" stroke="#111" stroke-width="0.3" >*</text>
<text x="64.20" y="405.10" font-size="6.6" font-weight="bold" font-style="italic" text-anchor="middle" fill="#222" stroke="#222" stroke-width="0.25" >PRX2/</text>
<text x="64.20" y="411.30" font-size="6.6" font-weight="bold" font-style="italic" text-anchor="middle" fill="#222" stroke="#222" stroke-width="0.25" >ATPRX1</text>
<rect x="86.80" y="358.40" width="13.10" height="39.30" fill="#231a17" stroke="none" stroke-width="0" />
<rect x="101.50" y="360.60" width="12.80" height="37.10" fill="#ffffff" stroke="#1a1a1a" stroke-width="0.9" />
<line x1="91.15" y1="357.50" x2="95.55" y2="357.50" stroke="#000" stroke-width="1.9" />
<line x1="105.60" y1="360.60" x2="110.20" y2="360.60" stroke="#000" stroke-width="1.7" />
<path d="M93.35,354.90 L93.35,349.80 L108.20,349.80 L108.20,357.40" fill="none" stroke="#444" stroke-width="0.85" />
<text x="101.22" y="347.40" font-size="6.6" font-weight="bold" font-style="normal" text-anchor="middle" fill="#111" stroke="#111" stroke-width="0.25" >ns</text>
<text x="100.70" y="406.10" font-size="6.6" font-weight="bold" font-style="italic" text-anchor="middle" fill="#222" stroke="#222" stroke-width="0.25" >PRX8</text>
<rect x="124.00" y="358.40" width="13.10" height="39.30" fill="#231a17" stroke="none" stroke-width="0" />
<rect x="139.20" y="359.19" width="12.80" height="38.51" fill="#ffffff" stroke="#1a1a1a" stroke-width="0.9" />
<line x1="128.35" y1="357.50" x2="132.75" y2="357.50" stroke="#000" stroke-width="1.9" />
<line x1="143.30" y1="359.19" x2="147.90" y2="359.19" stroke="#000" stroke-width="1.7" />
<path d="M130.55,354.90 L130.55,349.60 L145.90,349.60 L145.90,355.99" fill="none" stroke="#444" stroke-width="0.85" />
<text x="138.67" y="347.20" font-size="6.6" font-weight="bold" font-style="normal" text-anchor="middle" fill="#111" stroke="#111" stroke-width="0.25" >ns</text>
<text x="138.40" y="406.10" font-size="6.6" font-weight="bold" font-style="italic" text-anchor="middle" fill="#222" stroke="#222" stroke-width="0.25" >PRX73</text>
<rect x="158.80" y="358.40" width="13.10" height="39.30" fill="#231a17" stroke="none" stroke-width="0" />
<rect x="174.60" y="326.17" width="12.80" height="71.53" fill="#ffffff" stroke="#1a1a1a" stroke-width="0.9" />
<line x1="163.15" y1="357.50" x2="167.55" y2="357.50" stroke="#000" stroke-width="1.9" />
<line x1="178.70" y1="326.17" x2="183.30" y2="326.17" stroke="#000" stroke-width="1.7" />
<path d="M165.35,354.90 L165.35,319.40 L181.30,319.40 L181.30,322.97" fill="none" stroke="#444" stroke-width="0.85" />
<text x="173.18" y="321.82" font-size="10.8" font-weight="bold" font-style="normal" text-anchor="middle" fill="#111" stroke="#111" stroke-width="0.3" >*</text>
<text x="173.80" y="405.10" font-size="6.6" font-weight="bold" font-style="italic" text-anchor="middle" fill="#222" stroke="#222" stroke-width="0.25" >PRX2/</text>
<text x="173.80" y="411.30" font-size="6.6" font-weight="bold" font-style="italic" text-anchor="middle" fill="#222" stroke="#222" stroke-width="0.25" >ATPRX1</text>
<rect x="196.00" y="358.40" width="13.10" height="39.30" fill="#231a17" stroke="none" stroke-width="0" />
<rect x="211.30" y="359.19" width="12.80" height="38.51" fill="#ffffff" stroke="#1a1a1a" stroke-width="0.9" />
<line x1="200.35" y1="357.50" x2="204.75" y2="357.50" stroke="#000" stroke-width="1.9" />
<line x1="215.40" y1="359.19" x2="220.00" y2="359.19" stroke="#000" stroke-width="1.7" />
<path d="M202.55,354.90 L202.55,350.00 L218.00,350.00 L218.00,355.99" fill="none" stroke="#444" stroke-width="0.85" />
<text x="210.72" y="347.60" font-size="6.6" font-weight="bold" font-style="normal" text-anchor="middle" fill="#111" stroke="#111" stroke-width="0.25" >ns</text>
<text x="210.50" y="406.10" font-size="6.6" font-weight="bold" font-style="italic" text-anchor="middle" fill="#222" stroke="#222" stroke-width="0.25" >PRX8</text>
<rect x="235.20" y="358.40" width="13.10" height="39.30" fill="#231a17" stroke="none" stroke-width="0" />
<rect x="250.40" y="349.36" width="12.80" height="48.34" fill="#ffffff" stroke="#1a1a1a" stroke-width="0.9" />
<line x1="239.55" y1="357.50" x2="243.95" y2="357.50" stroke="#000" stroke-width="1.9" />
<rect x="254.80" y="348.06" width="4.00" height="3.00" fill="#000" stroke="none" stroke-width="0" />
<path d="M241.75,354.90 L241.75,343.20 L257.10,343.20 L257.10,347.36" fill="none" stroke="#444" stroke-width="0.85" />
<text x="249.28" y="345.62" font-size="10.8" font-weight="bold" font-style="normal" text-anchor="middle" fill="#111" stroke="#111" stroke-width="0.3" >*</text>
<text x="249.60" y="406.10" font-size="6.6" font-weight="bold" font-style="italic" text-anchor="middle" fill="#222" stroke="#222" stroke-width="0.25" >PRX73</text>
<line x1="50.30" y1="415.00" x2="151.40" y2="415.00" stroke="#333" stroke-width="0.9" />
<text x="101.40" y="422.80" font-size="7.6" font-weight="bold" text-anchor="middle" fill="#111" stroke="#111" stroke-width="0.25">#12-6 <tspan font-style="italic">PRX35RNAi</tspan></text>
<line x1="159.50" y1="414.50" x2="263.00" y2="414.50" stroke="#333" stroke-width="0.9" />
<text x="212.00" y="422.80" font-size="7.6" font-weight="bold" text-anchor="middle" fill="#111" stroke="#111" stroke-width="0.25">#19-8 <tspan font-style="italic">PRX35RNAi</tspan></text>
<rect x="224.40" y="316.40" width="7.20" height="7.50" fill="#0e0c0b" stroke="none" stroke-width="0" />
<rect x="224.85" y="326.70" width="6.50" height="7.30" fill="#fff" stroke="#333" stroke-width="0.9" />
<text x="233.60" y="322.70" font-size="7.0" font-weight="bold" font-style="normal" text-anchor="start" fill="#111" stroke="#111" stroke-width="0.25" >Col-0</text>
<text x="233.80" y="333.30" font-size="6.85" font-weight="bold" font-style="italic" text-anchor="start" fill="#111" stroke="#111" stroke-width="0.12" >PRX35RNAi</text>
<line x1="283.90" y1="318.80" x2="283.90" y2="398.50" stroke="#111" stroke-width="1.4" />
<line x1="283.20" y1="397.80" x2="514.40" y2="397.80" stroke="#111" stroke-width="1.5" />
<line x1="283.30" y1="358.30" x2="286.50" y2="358.30" stroke="#111" stroke-width="1.2" />
<line x1="283.30" y1="318.80" x2="287.50" y2="318.80" stroke="#111" stroke-width="1.2" />
<rect x="293.70" y="358.30" width="13.10" height="39.50" fill="#231a17" stroke="none" stroke-width="0" />
<rect x="309.40" y="370.15" width="12.80" height="27.65" fill="#ffffff" stroke="#1a1a1a" stroke-width="0.9" />
<line x1="298.05" y1="357.40" x2="302.45" y2="357.40" stroke="#000" stroke-width="1.9" />
<line x1="315.80" y1="367.78" x2="315.80" y2="372.52" stroke="#000" stroke-width="1.0" />
<line x1="313.60" y1="367.78" x2="318.00" y2="367.78" stroke="#000" stroke-width="1.2" />
<line x1="313.60" y1="372.52" x2="318.00" y2="372.52" stroke="#000" stroke-width="1.2" />
<path d="M300.25,354.80 L300.25,350.40 L316.10,350.40 L316.10,365.38" fill="none" stroke="#444" stroke-width="0.85" />
<text x="308.02" y="352.82" font-size="10.8" font-weight="bold" font-style="normal" text-anchor="middle" fill="#111" stroke="#111" stroke-width="0.3" >*</text>
<text x="308.60" y="405.20" font-size="6.6" font-weight="bold" font-style="italic" text-anchor="middle" fill="#222" stroke="#222" stroke-width="0.25" >PRX2/</text>
<text x="308.60" y="411.40" font-size="6.6" font-weight="bold" font-style="italic" text-anchor="middle" fill="#222" stroke="#222" stroke-width="0.25" >ATPRX1</text>
<rect x="330.20" y="358.30" width="13.10" height="39.50" fill="#231a17" stroke="none" stroke-width="0" />
<rect x="345.30" y="363.24" width="12.80" height="34.56" fill="#ffffff" stroke="#1a1a1a" stroke-width="0.9" />
<line x1="334.55" y1="357.40" x2="338.95" y2="357.40" stroke="#000" stroke-width="1.9" />
<line x1="349.40" y1="363.24" x2="354.00" y2="363.24" stroke="#000" stroke-width="1.7" />
<path d="M336.75,354.80 L336.75,349.00 L352.00,349.00 L352.00,360.04" fill="none" stroke="#444" stroke-width="0.85" />
<text x="344.23" y="351.42" font-size="10.8" font-weight="bold" font-style="normal" text-anchor="middle" fill="#111" stroke="#111" stroke-width="0.3" >*</text>
<text x="344.50" y="406.20" font-size="6.6" font-weight="bold" font-style="italic" text-anchor="middle" fill="#222" stroke="#222" stroke-width="0.25" >PRX8</text>
<rect x="367.00" y="358.30" width="13.10" height="39.50" fill="#231a17" stroke="none" stroke-width="0" />
<rect x="382.50" y="350.40" width="12.80" height="47.40" fill="#ffffff" stroke="#1a1a1a" stroke-width="0.9" />
<line x1="371.35" y1="357.40" x2="375.75" y2="357.40" stroke="#000" stroke-width="1.9" />
<line x1="386.60" y1="350.40" x2="391.20" y2="350.40" stroke="#000" stroke-width="1.7" />
<path d="M373.55,354.80 L373.55,342.40 L389.20,342.40 L389.20,347.20" fill="none" stroke="#444" stroke-width="0.85" />
<text x="381.23" y="344.82" font-size="10.8" font-weight="bold" font-style="normal" text-anchor="middle" fill="#111" stroke="#111" stroke-width="0.3" >*</text>
<text x="381.70" y="406.20" font-size="6.6" font-weight="bold" font-style="italic" text-anchor="middle" fill="#222" stroke="#222" stroke-width="0.25" >PRX35</text>
<rect x="402.20" y="358.30" width="13.10" height="39.50" fill="#231a17" stroke="none" stroke-width="0" />
<rect x="417.90" y="367.58" width="12.80" height="30.22" fill="#ffffff" stroke="#1a1a1a" stroke-width="0.9" />
<line x1="406.55" y1="357.40" x2="410.95" y2="357.40" stroke="#000" stroke-width="1.9" />
<line x1="422.00" y1="367.58" x2="426.60" y2="367.58" stroke="#000" stroke-width="1.7" />
<path d="M408.75,354.80 L408.75,349.30 L424.60,349.30 L424.60,364.38" fill="none" stroke="#444" stroke-width="0.85" />
<text x="416.52" y="351.72" font-size="10.8" font-weight="bold" font-style="normal" text-anchor="middle" fill="#111" stroke="#111" stroke-width="0.3" >*</text>
<text x="417.10" y="405.20" font-size="6.6" font-weight="bold" font-style="italic" text-anchor="middle" fill="#222" stroke="#222" stroke-width="0.25" >PRX2/</text>
<text x="417.10" y="411.40" font-size="6.6" font-weight="bold" font-style="italic" text-anchor="middle" fill="#222" stroke="#222" stroke-width="0.25" >ATPRX1</text>
<rect x="439.00" y="358.30" width="13.10" height="39.50" fill="#231a17" stroke="none" stroke-width="0" />
<rect x="454.50" y="367.58" width="12.80" height="30.22" fill="#ffffff" stroke="#1a1a1a" stroke-width="0.9" />
<line x1="443.35" y1="357.40" x2="447.75" y2="357.40" stroke="#000" stroke-width="1.9" />
<line x1="458.60" y1="367.58" x2="463.20" y2="367.58" stroke="#000" stroke-width="1.7" />
<path d="M445.55,354.80 L445.55,349.40 L461.20,349.40 L461.20,364.38" fill="none" stroke="#444" stroke-width="0.85" />
<text x="453.23" y="351.82" font-size="10.8" font-weight="bold" font-style="normal" text-anchor="middle" fill="#111" stroke="#111" stroke-width="0.3" >*</text>
<text x="453.70" y="406.20" font-size="6.6" font-weight="bold" font-style="italic" text-anchor="middle" fill="#222" stroke="#222" stroke-width="0.25" >PRX8</text>
<rect x="477.50" y="358.30" width="13.10" height="39.50" fill="#231a17" stroke="none" stroke-width="0" />
<rect x="493.30" y="364.82" width="12.80" height="32.98" fill="#ffffff" stroke="#1a1a1a" stroke-width="0.9" />
<line x1="481.85" y1="357.40" x2="486.25" y2="357.40" stroke="#000" stroke-width="1.9" />
<line x1="497.40" y1="364.82" x2="502.00" y2="364.82" stroke="#000" stroke-width="1.7" />
<path d="M484.05,354.80 L484.05,350.40 L500.00,350.40 L500.00,361.62" fill="none" stroke="#444" stroke-width="0.85" />
<text x="491.88" y="352.82" font-size="10.8" font-weight="bold" font-style="normal" text-anchor="middle" fill="#111" stroke="#111" stroke-width="0.3" >*</text>
<text x="492.50" y="406.20" font-size="6.6" font-weight="bold" font-style="italic" text-anchor="middle" fill="#222" stroke="#222" stroke-width="0.25" >PRX35</text>
<line x1="293.70" y1="414.20" x2="395.00" y2="414.20" stroke="#333" stroke-width="0.9" />
<text x="345.40" y="422.40" font-size="7.6" font-weight="bold" text-anchor="middle" fill="#111" stroke="#111" stroke-width="0.25">#2-6 <tspan font-style="italic">PRX73RNAi</tspan></text>
<line x1="402.00" y1="414.90" x2="505.70" y2="414.90" stroke="#333" stroke-width="0.9" />
<text x="454.00" y="422.40" font-size="7.6" font-weight="bold" text-anchor="middle" fill="#111" stroke="#111" stroke-width="0.25">#10-1 <tspan font-style="italic">PRX73RNAi</tspan></text>
<rect x="469.80" y="316.20" width="7.20" height="7.50" fill="#0e0c0b" stroke="none" stroke-width="0" />
<rect x="470.25" y="326.50" width="6.50" height="7.30" fill="#fff" stroke="#333" stroke-width="0.9" />
<text x="479.00" y="322.50" font-size="7.0" font-weight="bold" font-style="normal" text-anchor="start" fill="#111" stroke="#111" stroke-width="0.25" >Col-0</text>
<text x="479.20" y="333.10" font-size="6.85" font-weight="bold" font-style="italic" text-anchor="start" fill="#111" stroke="#111" stroke-width="0.12" >PRX73RNAi</text>
</svg>
</body></html>
